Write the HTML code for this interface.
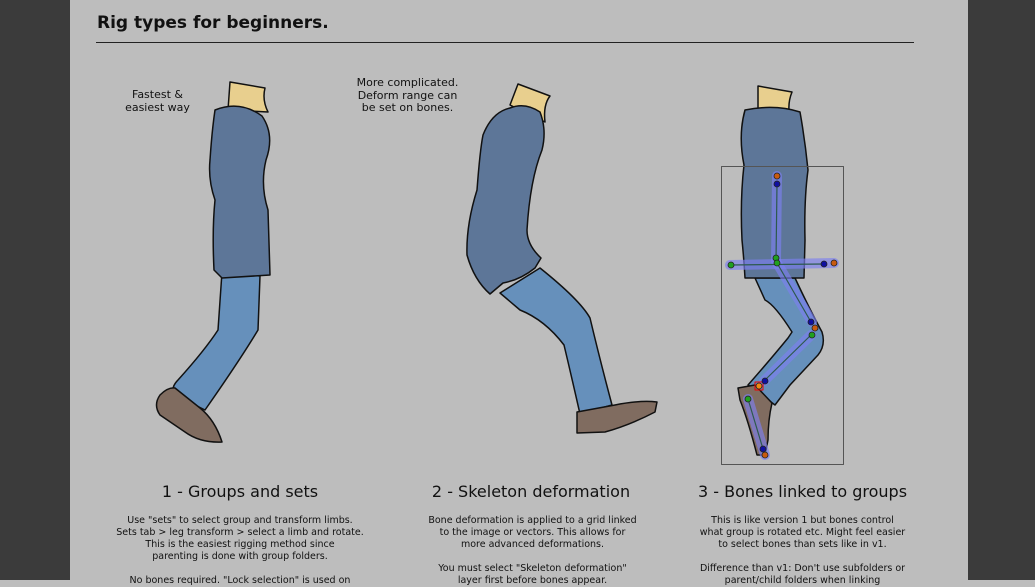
<!DOCTYPE html>
<html><head><meta charset="utf-8"><style>
html,body{margin:0;padding:0}
body{width:1035px;height:580px;overflow:hidden;background:#bdbdbd;position:relative;font-family:"DejaVu Sans","Liberation Sans",sans-serif;color:#111}
.sideL{position:absolute;left:0;top:0;width:70px;height:580px;background:#3b3b3b}
.sideR{position:absolute;right:0;top:0;width:67px;height:580px;background:#3b3b3b}
.t{position:absolute;text-align:center}
h1{position:absolute;left:97px;top:13px;margin:0;font-size:17px;font-weight:bold}
.rule{position:absolute;left:96px;top:42px;width:818px;height:1px;background:#222}
.h{font-size:16px}
.s{font-size:9.5px;line-height:12px}
</style></head><body>
<div class="sideL"></div><div class="sideR"></div>
<h1>Rig types for beginners.</h1>
<div class="rule"></div>
<div class="t" style="left:105px;top:88px;width:105px;font-size:11px;line-height:13px">Fastest &amp;<br>easiest way</div>
<div class="t" style="left:340px;top:77px;width:135px;font-size:11px;line-height:12.5px">More complicated.<br>Deform range can<br>be set on bones.</div>
<svg width="1035" height="580" style="position:absolute;left:0;top:0" stroke="#111" stroke-width="1.5" stroke-linejoin="round">
<!-- fig1 -->
<path d="M230 82 L265 88 Q262 100 268 112 L228 110 Z" fill="#e8cf8e"/>
<path d="M222 272 L260 276 L258 330 Q240 360 205 410 L175 395 Q170 388 178 380 Q205 350 218 330 Z" fill="#6690bb"/>
<path d="M160 395 Q168 387 175 388 L200 408 Q215 420 222 442 Q200 443 185 432 L160 415 Q153 405 160 395 Z" fill="#806c60"/>
<path d="M215 110 Q240 100 262 116 Q275 135 266 160 Q260 185 268 210 L270 275 L222 278 L214 270 Q212 230 215 200 Q208 180 210 160 Q212 130 215 110 Z" fill="#5d7698"/>
<!-- fig2 -->
<path d="M518 84 L550 96 Q543 105 545 122 L510 105 Z" fill="#e8cf8e"/>
<path d="M500 293 L540 268 Q580 300 590 318 Q600 360 612 405 L580 414 Q570 370 564 345 Q545 320 520 310 Z" fill="#6690bb"/>
<path d="M577 412 L615 405 Q640 400 657 402 L655 412 Q630 425 605 432 L577 433 Z" fill="#806c60"/>
<path d="M510 108 Q525 102 540 112 Q547 130 542 150 Q530 180 527 230 Q527 245 541 258 L535 268 Q520 280 503 283 L490 294 Q474 280 467 255 Q466 225 477 190 Q480 150 483 135 Q492 112 510 108 Z" fill="#5d7698"/>
<!-- fig3 -->
<path d="M758 86 L792 92 Q787 104 790 118 L758 115 Z" fill="#e8cf8e"/>
<path d="M755 278 L795 278 Q810 310 822 332 Q826 345 818 355 L790 385 L775 405 L748 385 Q770 360 788 338 L792 332 Q775 305 765 300 Z" fill="#6690bb"/>
<path d="M738 388 L755 385 L772 403 Q768 420 768 440 L765 455 L757 455 Q748 420 740 400 Z" fill="#806c60"/>
<path d="M745 110 Q775 104 800 112 Q805 140 808 170 Q804 200 805 240 L804 278 L745 278 Q744 260 742 240 Q740 200 744 165 Q738 135 745 110 Z" fill="#5d7698"/>
<rect x="721.5" y="166.5" width="122" height="298" fill="none" stroke="#555" stroke-width="1"/>
<g stroke="#7c7ff0" stroke-opacity="0.65" stroke-linecap="round" fill="none">
<line x1="777" y1="176" x2="776" y2="262" stroke-width="10"/>
<line x1="730" y1="265" x2="834" y2="263" stroke-width="10"/>
<line x1="777" y1="263" x2="812" y2="322" stroke-width="10"/>
<line x1="811" y1="335" x2="764" y2="381" stroke-width="10"/>
<line x1="748" y1="399" x2="765" y2="455" stroke-width="10"/>
</g>
<g stroke="#2d5a4d" stroke-width="1.2">
<line x1="777" y1="184" x2="776" y2="262"/><line x1="730" y1="265" x2="824" y2="264"/>
<line x1="777" y1="263" x2="811" y2="322"/><line x1="811" y1="335" x2="764" y2="381"/>
<line x1="748" y1="399" x2="763" y2="449"/>
</g>
<rect x="755" y="382" width="8" height="8" fill="none" stroke="#e00" stroke-width="1"/>
<g stroke="#222" stroke-width="0.8">
<circle cx="777" cy="176" r="3" fill="#c85a10"/><circle cx="777" cy="184" r="3" fill="#1010a0"/>
<circle cx="776" cy="258" r="3" fill="#20a020"/><circle cx="777" cy="263" r="3" fill="#20a020"/>
<circle cx="731" cy="265" r="3" fill="#20a020"/><circle cx="824" cy="264" r="3" fill="#1010a0"/><circle cx="834" cy="263" r="3" fill="#c85a10"/>
<circle cx="811" cy="322" r="3" fill="#1010a0"/><circle cx="815" cy="328" r="3" fill="#c85a10"/><circle cx="812" cy="335" r="3" fill="#20a020"/>
<circle cx="765" cy="381" r="3" fill="#1010a0"/><circle cx="759" cy="386" r="3" fill="#f08a10"/>
<circle cx="748" cy="399" r="3" fill="#20a020"/><circle cx="763" cy="449" r="3" fill="#1010a0"/><circle cx="765" cy="455" r="3" fill="#c85a10"/>
</g>
</svg>
<div class="t h" style="left:120px;top:482px;width:240px">1 - Groups and sets</div>
<div class="t h" style="left:400px;top:482px;width:262px">2 - Skeleton deformation</div>
<div class="t h" style="left:680px;top:482px;width:245px">3 - Bones linked to groups</div>
<div class="t s" style="left:110px;top:515px;width:260px">Use "sets" to select group and transform limbs.<br>Sets tab &gt; leg transform &gt; select a limb and rotate.<br>This is the easiest rigging method since<br>parenting is done with group folders.<br><br>No bones required. "Lock selection" is used on</div>
<div class="t s" style="left:405px;top:515px;width:255px">Bone deformation is applied to a grid linked<br>to the image or vectors. This allows for<br>more advanced deformations.<br><br>You must select "Skeleton deformation"<br>layer first before bones appear.</div>
<div class="t s" style="left:680px;top:515px;width:245px">This is like version 1 but bones control<br>what group is rotated etc. Might feel easier<br>to select bones than sets like in v1.<br><br>Difference than v1: Don't use subfolders or<br>parent/child folders when linking</div>
</body></html>
